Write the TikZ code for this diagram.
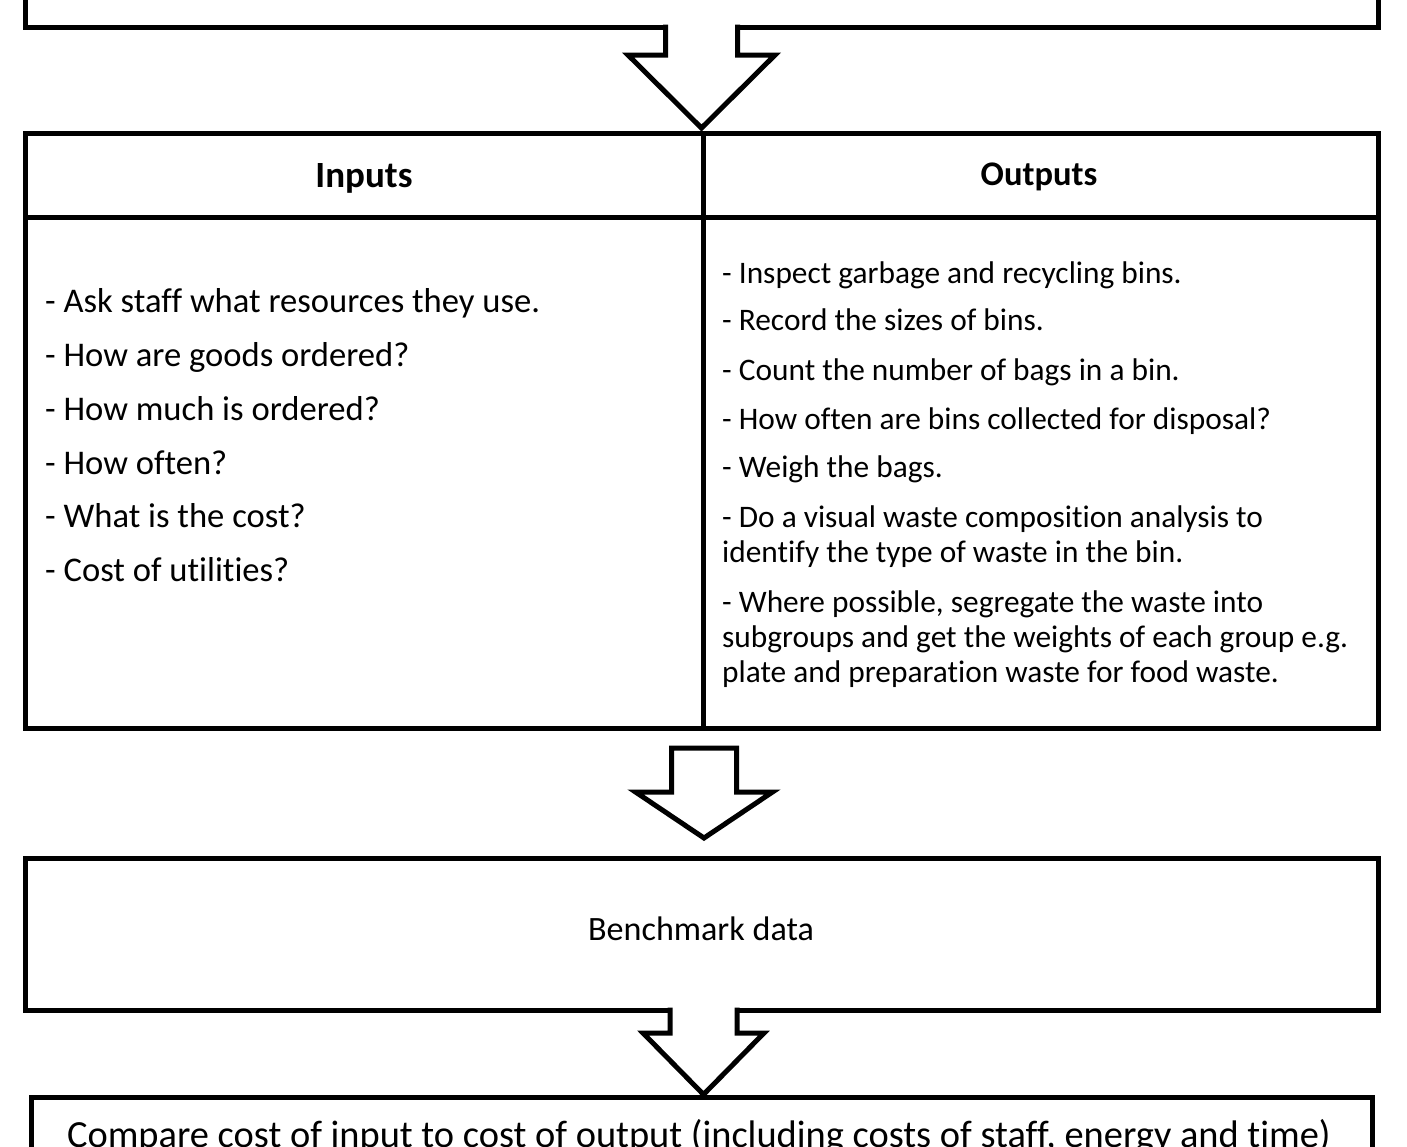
\documentclass[tikz,border=0pt]{standalone}
\usepackage{fontspec}
\setmainfont{Carlito}[Ligatures=NoCommon]
\usetikzlibrary{calc}
\tikzset{cell/.style = {draw, line width=5pt, inner sep=0pt, outer sep=0pt}}
\tikzset{blockarrow/.style = {draw, line width=5pt, line join=miter, fill=white}}
\tikzset{heading/.style = {anchor=base, inner sep=0pt, font=\fontsize{37}{44}\selectfont\bfseries}}
\tikzset{listtext/.style = {anchor=north west, inner sep=0pt, align=left}}
\newcommand{\firstline}{\rule{0pt}{28pt}}

\begin{document}
\begin{tikzpicture}[x=1pt, y=-1pt]
	\useasboundingbox (0,0) rectangle (1407,1146);

	% Boxes
	\node[cell, minimum width=1353pt, minimum height=154pt] (prev) at (701.5,-50) {};
	\node[cell, minimum width=678pt, minimum height=84pt] (inhead) at (364,175) {};
	\node[cell, minimum width=675pt, minimum height=84pt] (outhead) at (1040.5,175) {};
	\node[cell, minimum width=678pt, minimum height=511pt] (inbody) at (364,472.5) {};
	\node[cell, minimum width=675pt, minimum height=511pt] (outbody) at (1040.5,472.5) {};
	\node[cell, minimum width=1353pt, minimum height=152pt] (bench) at (701.5,934) {};
	\node[cell, minimum width=1341pt, minimum height=100pt] (compare) at (701.5,1147) {};

	% Arrows
	%%1
	\fill[white] ([shift={(-36pt,4pt)}]prev.south) rectangle ([shift={(36pt,-4pt)}]prev.south);
	\draw[line width=5pt, line join=miter] ([shift={(-36pt,2.5pt)}]prev.south) -- ++(0,30.5) -- ++(-37.5,0) -- ++(73.5,73) -- ++(73.5,-73) -- ++(-37.5,0) -- ++(0,-30.5);
	%%2
	\draw[blockarrow] ([shift={(-31.5pt,-20pt)}]inbody.south east) -- ++(0,44) -- ++(-36,0) -- ++(68.5,46) -- ++(68.5,-46) -- ++(-36,0) -- ++(0,-44) -- cycle;
	%%3
	\fill[white] ([shift={(-31.5pt,4pt)}]bench.south) rectangle ([shift={(35.5pt,-4pt)}]bench.south);
	\draw[line width=5pt, line join=miter] ([shift={(-31.5pt,2.5pt)}]bench.south) -- ++(0,25.5) -- ++(-27,0) -- ++(60.5,61.5) -- ++(60.5,-61.5) -- ++(-27,0) -- ++(0,-25.5);

	% Headings
	\node[heading] (intitle) at (364,187) {Inputs};
	\node[heading, font=\fontsize{34.5}{41}\selectfont\bfseries] (outtitle) at (1039,185) {Outputs};

	% Lists
	\node[listtext, font=\fontsize{34.6}{53.7}\selectfont] (inlist) at (45,284.7) {\firstline- Ask staff what resources they use.\\- How are goods ordered?\\- How much is ordered?\\- How often?\\- What is the cost?\\- Cost of utilities?};
	\node[listtext, font=\fontsize{31.35}{35.3}\selectfont] (outlist) at (722,255.3) {\firstline- Inspect garbage and recycling bins.\\[12pt]- Record the sizes of bins.\\[14pt]- Count the number of bags in a bin.\\[14pt]- How often are bins collected for disposal?\\[13pt]- Weigh the bags.\\[14pt]- Do a visual waste composition analysis to\\identify the type of waste in the bin.\\[14.5pt]- Where possible, segregate the waste into\\subgroups and get the weights of each group e.g.\\plate and preparation waste for food waste.};

	% Bottom texts
	\node[anchor=base, inner sep=0pt, font=\fontsize{34.1}{41}\selectfont] (benchtext) at (701,940.7) {Benchmark data};
	\node[anchor=base, inner sep=0pt, font=\fontsize{38.4}{46}\selectfont] (comparetext) at (699,1147) {Compare cost of input to cost of output (including costs of staff, energy and time)};
\end{tikzpicture}
\end{document}
